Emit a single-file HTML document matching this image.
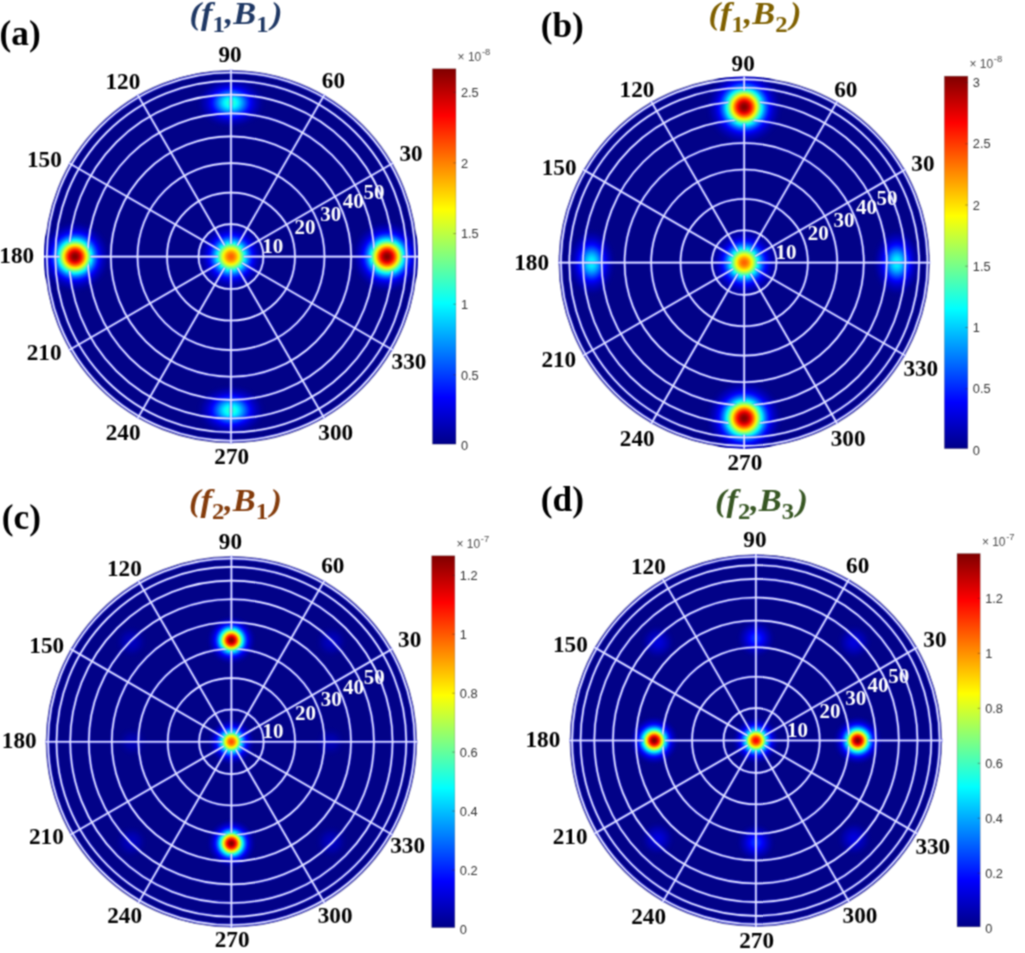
<!DOCTYPE html>
<html><head><meta charset="utf-8"><title>Polar intensity maps</title>
<style>
html,body{margin:0;padding:0;background:#fff}
svg{display:block}
text{font-family:"Liberation Serif",serif}
.al text{font-size:23.2px;font-weight:bold;fill:#000;text-anchor:middle}
.rl text{font-size:21px;font-weight:bold;fill:#fff;text-anchor:middle}
.ct text,.ce text{font-family:"Liberation Sans",sans-serif;font-size:12.8px;fill:#303030}
.ce text{font-size:12px;fill:#4a4a4a}
.pl{font-size:35.3px;font-weight:bold;fill:#000}
.tt{font-size:32px;font-weight:bold;font-style:italic}
.tt .sb{font-size:23px;font-style:normal}
</style></head><body>
<svg width="1025" height="953" viewBox="0 0 1025 953">
<defs>
<filter id="soft" x="0" y="0" width="1025" height="953" filterUnits="userSpaceOnUse" color-interpolation-filters="sRGB"><feConvolveMatrix order="3" kernelMatrix="1 2 1 2 5 2 1 2 1" divisor="17" edgeMode="duplicate" preserveAlpha="true"/></filter>
<linearGradient id="jet" x1="0" y1="0" x2="0" y2="1"><stop offset="0.0000" stop-color="#800000"/><stop offset="0.0312" stop-color="#9f0000"/><stop offset="0.0625" stop-color="#bf0000"/><stop offset="0.0938" stop-color="#df0000"/><stop offset="0.1250" stop-color="#ff0000"/><stop offset="0.1562" stop-color="#ff2000"/><stop offset="0.1875" stop-color="#ff4000"/><stop offset="0.2188" stop-color="#ff6000"/><stop offset="0.2500" stop-color="#ff8000"/><stop offset="0.2812" stop-color="#ff9f00"/><stop offset="0.3125" stop-color="#ffbf00"/><stop offset="0.3438" stop-color="#ffdf00"/><stop offset="0.3750" stop-color="#ffff00"/><stop offset="0.4062" stop-color="#dfff20"/><stop offset="0.4375" stop-color="#bfff40"/><stop offset="0.4688" stop-color="#9fff60"/><stop offset="0.5000" stop-color="#80ff80"/><stop offset="0.5312" stop-color="#60ff9f"/><stop offset="0.5625" stop-color="#40ffbf"/><stop offset="0.5938" stop-color="#20ffdf"/><stop offset="0.6250" stop-color="#00ffff"/><stop offset="0.6562" stop-color="#00dfff"/><stop offset="0.6875" stop-color="#00bfff"/><stop offset="0.7188" stop-color="#009fff"/><stop offset="0.7500" stop-color="#0080ff"/><stop offset="0.7812" stop-color="#0060ff"/><stop offset="0.8125" stop-color="#0040ff"/><stop offset="0.8438" stop-color="#0020ff"/><stop offset="0.8750" stop-color="#0000ff"/><stop offset="0.9062" stop-color="#0000e1"/><stop offset="0.9375" stop-color="#0000c3"/><stop offset="0.9688" stop-color="#0000a5"/><stop offset="1.0000" stop-color="#000088"/></linearGradient>
<clipPath id="ca"><circle cx="231.00" cy="256.60" r="187.00"/></clipPath>
<radialGradient id="g1" gradientUnits="userSpaceOnUse" cx="231.00" cy="256.60" r="37.35"><stop offset="0.0000" stop-color="#ff6100" stop-opacity="1.000"/><stop offset="0.0357" stop-color="#ff6600" stop-opacity="1.000"/><stop offset="0.0714" stop-color="#ff7600" stop-opacity="1.000"/><stop offset="0.1071" stop-color="#ff9000" stop-opacity="1.000"/><stop offset="0.1429" stop-color="#ffb200" stop-opacity="1.000"/><stop offset="0.1786" stop-color="#ffdc00" stop-opacity="1.000"/><stop offset="0.2143" stop-color="#f2ff0d" stop-opacity="1.000"/><stop offset="0.2500" stop-color="#beff41" stop-opacity="1.000"/><stop offset="0.2857" stop-color="#87ff78" stop-opacity="1.000"/><stop offset="0.3214" stop-color="#4fffb0" stop-opacity="1.000"/><stop offset="0.3571" stop-color="#18ffe7" stop-opacity="1.000"/><stop offset="0.3929" stop-color="#00e1ff" stop-opacity="1.000"/><stop offset="0.4286" stop-color="#00afff" stop-opacity="1.000"/><stop offset="0.4643" stop-color="#0080ff" stop-opacity="1.000"/><stop offset="0.5000" stop-color="#0055ff" stop-opacity="1.000"/><stop offset="0.5357" stop-color="#0030ff" stop-opacity="1.000"/><stop offset="0.5714" stop-color="#000fff" stop-opacity="1.000"/><stop offset="0.6071" stop-color="#0000f2" stop-opacity="1.000"/><stop offset="0.6429" stop-color="#0000dc" stop-opacity="1.000"/><stop offset="0.6786" stop-color="#0000c9" stop-opacity="1.000"/><stop offset="0.7143" stop-color="#0000ba" stop-opacity="1.000"/><stop offset="0.7500" stop-color="#0000ae" stop-opacity="1.000"/><stop offset="0.7857" stop-color="#0000a4" stop-opacity="1.000"/><stop offset="0.8214" stop-color="#010197" stop-opacity="1.000"/><stop offset="0.8571" stop-color="#010190" stop-opacity="1.000"/><stop offset="0.8929" stop-color="#01018c" stop-opacity="0.957"/><stop offset="0.9286" stop-color="#01018a" stop-opacity="0.534"/><stop offset="0.9643" stop-color="#020289" stop-opacity="0.224"/><stop offset="1.0000" stop-color="#020288" stop-opacity="0.000"/></radialGradient>
<radialGradient id="g2" gradientUnits="userSpaceOnUse" cx="387.00" cy="256.60" r="39.21"><stop offset="0.0000" stop-color="#800000" stop-opacity="1.000"/><stop offset="0.0357" stop-color="#870000" stop-opacity="1.000"/><stop offset="0.0714" stop-color="#9c0000" stop-opacity="1.000"/><stop offset="0.1071" stop-color="#be0000" stop-opacity="1.000"/><stop offset="0.1429" stop-color="#ec0000" stop-opacity="1.000"/><stop offset="0.1786" stop-color="#ff2500" stop-opacity="1.000"/><stop offset="0.2143" stop-color="#ff6500" stop-opacity="1.000"/><stop offset="0.2500" stop-color="#ffaa00" stop-opacity="1.000"/><stop offset="0.2857" stop-color="#fff300" stop-opacity="1.000"/><stop offset="0.3214" stop-color="#c2ff3d" stop-opacity="1.000"/><stop offset="0.3571" stop-color="#7aff85" stop-opacity="1.000"/><stop offset="0.3929" stop-color="#35ffca" stop-opacity="1.000"/><stop offset="0.4286" stop-color="#00f2ff" stop-opacity="1.000"/><stop offset="0.4643" stop-color="#00b7ff" stop-opacity="1.000"/><stop offset="0.5000" stop-color="#0081ff" stop-opacity="1.000"/><stop offset="0.5357" stop-color="#0052ff" stop-opacity="1.000"/><stop offset="0.5714" stop-color="#0029ff" stop-opacity="1.000"/><stop offset="0.6071" stop-color="#0006ff" stop-opacity="1.000"/><stop offset="0.6429" stop-color="#0000e9" stop-opacity="1.000"/><stop offset="0.6786" stop-color="#0000d3" stop-opacity="1.000"/><stop offset="0.7143" stop-color="#0000c0" stop-opacity="1.000"/><stop offset="0.7500" stop-color="#0000b2" stop-opacity="1.000"/><stop offset="0.7857" stop-color="#0000a7" stop-opacity="1.000"/><stop offset="0.8214" stop-color="#00009a" stop-opacity="1.000"/><stop offset="0.8571" stop-color="#010191" stop-opacity="1.000"/><stop offset="0.8929" stop-color="#01018c" stop-opacity="1.000"/><stop offset="0.9286" stop-color="#01018a" stop-opacity="0.570"/><stop offset="0.9643" stop-color="#020289" stop-opacity="0.237"/><stop offset="1.0000" stop-color="#020288" stop-opacity="0.000"/></radialGradient>
<radialGradient id="g3" gradientUnits="userSpaceOnUse" cx="75.00" cy="256.60" r="39.21"><stop offset="0.0000" stop-color="#800000" stop-opacity="1.000"/><stop offset="0.0357" stop-color="#870000" stop-opacity="1.000"/><stop offset="0.0714" stop-color="#9c0000" stop-opacity="1.000"/><stop offset="0.1071" stop-color="#be0000" stop-opacity="1.000"/><stop offset="0.1429" stop-color="#ec0000" stop-opacity="1.000"/><stop offset="0.1786" stop-color="#ff2500" stop-opacity="1.000"/><stop offset="0.2143" stop-color="#ff6500" stop-opacity="1.000"/><stop offset="0.2500" stop-color="#ffaa00" stop-opacity="1.000"/><stop offset="0.2857" stop-color="#fff300" stop-opacity="1.000"/><stop offset="0.3214" stop-color="#c2ff3d" stop-opacity="1.000"/><stop offset="0.3571" stop-color="#7aff85" stop-opacity="1.000"/><stop offset="0.3929" stop-color="#35ffca" stop-opacity="1.000"/><stop offset="0.4286" stop-color="#00f2ff" stop-opacity="1.000"/><stop offset="0.4643" stop-color="#00b7ff" stop-opacity="1.000"/><stop offset="0.5000" stop-color="#0081ff" stop-opacity="1.000"/><stop offset="0.5357" stop-color="#0052ff" stop-opacity="1.000"/><stop offset="0.5714" stop-color="#0029ff" stop-opacity="1.000"/><stop offset="0.6071" stop-color="#0006ff" stop-opacity="1.000"/><stop offset="0.6429" stop-color="#0000e9" stop-opacity="1.000"/><stop offset="0.6786" stop-color="#0000d3" stop-opacity="1.000"/><stop offset="0.7143" stop-color="#0000c0" stop-opacity="1.000"/><stop offset="0.7500" stop-color="#0000b2" stop-opacity="1.000"/><stop offset="0.7857" stop-color="#0000a7" stop-opacity="1.000"/><stop offset="0.8214" stop-color="#00009a" stop-opacity="1.000"/><stop offset="0.8571" stop-color="#010191" stop-opacity="1.000"/><stop offset="0.8929" stop-color="#01018c" stop-opacity="1.000"/><stop offset="0.9286" stop-color="#01018a" stop-opacity="0.570"/><stop offset="0.9643" stop-color="#020289" stop-opacity="0.237"/><stop offset="1.0000" stop-color="#020288" stop-opacity="0.000"/></radialGradient>
<radialGradient id="g4" gradientUnits="userSpaceOnUse" cx="231.00" cy="102.80" r="38.13" gradientTransform="translate(231.00 102.80) scale(1.000 0.750) translate(-231.00 -102.80)"><stop offset="0.0000" stop-color="#2dffd2" stop-opacity="1.000"/><stop offset="0.0357" stop-color="#2affd5" stop-opacity="1.000"/><stop offset="0.0714" stop-color="#23ffdc" stop-opacity="1.000"/><stop offset="0.1071" stop-color="#17ffe8" stop-opacity="1.000"/><stop offset="0.1429" stop-color="#06fff9" stop-opacity="1.000"/><stop offset="0.1786" stop-color="#00f1ff" stop-opacity="1.000"/><stop offset="0.2143" stop-color="#00daff" stop-opacity="1.000"/><stop offset="0.2500" stop-color="#00c0ff" stop-opacity="1.000"/><stop offset="0.2857" stop-color="#00a5ff" stop-opacity="1.000"/><stop offset="0.3214" stop-color="#0089ff" stop-opacity="1.000"/><stop offset="0.3571" stop-color="#006dff" stop-opacity="1.000"/><stop offset="0.3929" stop-color="#0051ff" stop-opacity="1.000"/><stop offset="0.4286" stop-color="#0036ff" stop-opacity="1.000"/><stop offset="0.4643" stop-color="#001dff" stop-opacity="1.000"/><stop offset="0.5000" stop-color="#0006ff" stop-opacity="1.000"/><stop offset="0.5357" stop-color="#0000f1" stop-opacity="1.000"/><stop offset="0.5714" stop-color="#0000df" stop-opacity="1.000"/><stop offset="0.6071" stop-color="#0000cf" stop-opacity="1.000"/><stop offset="0.6429" stop-color="#0000c2" stop-opacity="1.000"/><stop offset="0.6786" stop-color="#0000b6" stop-opacity="1.000"/><stop offset="0.7143" stop-color="#0000ad" stop-opacity="1.000"/><stop offset="0.7500" stop-color="#0000a4" stop-opacity="1.000"/><stop offset="0.7857" stop-color="#000099" stop-opacity="1.000"/><stop offset="0.8214" stop-color="#010192" stop-opacity="1.000"/><stop offset="0.8571" stop-color="#01018e" stop-opacity="1.000"/><stop offset="0.8929" stop-color="#01018b" stop-opacity="0.784"/><stop offset="0.9286" stop-color="#01018a" stop-opacity="0.449"/><stop offset="0.9643" stop-color="#020289" stop-opacity="0.193"/><stop offset="1.0000" stop-color="#020288" stop-opacity="0.000"/></radialGradient>
<radialGradient id="g5" gradientUnits="userSpaceOnUse" cx="231.00" cy="410.40" r="38.13" gradientTransform="translate(231.00 410.40) scale(1.000 0.750) translate(-231.00 -410.40)"><stop offset="0.0000" stop-color="#2dffd2" stop-opacity="1.000"/><stop offset="0.0357" stop-color="#2affd5" stop-opacity="1.000"/><stop offset="0.0714" stop-color="#23ffdc" stop-opacity="1.000"/><stop offset="0.1071" stop-color="#17ffe8" stop-opacity="1.000"/><stop offset="0.1429" stop-color="#06fff9" stop-opacity="1.000"/><stop offset="0.1786" stop-color="#00f1ff" stop-opacity="1.000"/><stop offset="0.2143" stop-color="#00daff" stop-opacity="1.000"/><stop offset="0.2500" stop-color="#00c0ff" stop-opacity="1.000"/><stop offset="0.2857" stop-color="#00a5ff" stop-opacity="1.000"/><stop offset="0.3214" stop-color="#0089ff" stop-opacity="1.000"/><stop offset="0.3571" stop-color="#006dff" stop-opacity="1.000"/><stop offset="0.3929" stop-color="#0051ff" stop-opacity="1.000"/><stop offset="0.4286" stop-color="#0036ff" stop-opacity="1.000"/><stop offset="0.4643" stop-color="#001dff" stop-opacity="1.000"/><stop offset="0.5000" stop-color="#0006ff" stop-opacity="1.000"/><stop offset="0.5357" stop-color="#0000f1" stop-opacity="1.000"/><stop offset="0.5714" stop-color="#0000df" stop-opacity="1.000"/><stop offset="0.6071" stop-color="#0000cf" stop-opacity="1.000"/><stop offset="0.6429" stop-color="#0000c2" stop-opacity="1.000"/><stop offset="0.6786" stop-color="#0000b6" stop-opacity="1.000"/><stop offset="0.7143" stop-color="#0000ad" stop-opacity="1.000"/><stop offset="0.7500" stop-color="#0000a4" stop-opacity="1.000"/><stop offset="0.7857" stop-color="#000099" stop-opacity="1.000"/><stop offset="0.8214" stop-color="#010192" stop-opacity="1.000"/><stop offset="0.8571" stop-color="#01018e" stop-opacity="1.000"/><stop offset="0.8929" stop-color="#01018b" stop-opacity="0.784"/><stop offset="0.9286" stop-color="#01018a" stop-opacity="0.449"/><stop offset="0.9643" stop-color="#020289" stop-opacity="0.193"/><stop offset="1.0000" stop-color="#020288" stop-opacity="0.000"/></radialGradient>
<clipPath id="ka"><rect x="361.0" y="176.6" width="30" height="24"/></clipPath>
<clipPath id="cb"><circle cx="744.20" cy="262.60" r="186.10"/></clipPath>
<radialGradient id="g6" gradientUnits="userSpaceOnUse" cx="744.20" cy="262.60" r="37.35"><stop offset="0.0000" stop-color="#ff6100" stop-opacity="1.000"/><stop offset="0.0357" stop-color="#ff6600" stop-opacity="1.000"/><stop offset="0.0714" stop-color="#ff7600" stop-opacity="1.000"/><stop offset="0.1071" stop-color="#ff9000" stop-opacity="1.000"/><stop offset="0.1429" stop-color="#ffb200" stop-opacity="1.000"/><stop offset="0.1786" stop-color="#ffdc00" stop-opacity="1.000"/><stop offset="0.2143" stop-color="#f2ff0d" stop-opacity="1.000"/><stop offset="0.2500" stop-color="#beff41" stop-opacity="1.000"/><stop offset="0.2857" stop-color="#87ff78" stop-opacity="1.000"/><stop offset="0.3214" stop-color="#4fffb0" stop-opacity="1.000"/><stop offset="0.3571" stop-color="#18ffe7" stop-opacity="1.000"/><stop offset="0.3929" stop-color="#00e1ff" stop-opacity="1.000"/><stop offset="0.4286" stop-color="#00afff" stop-opacity="1.000"/><stop offset="0.4643" stop-color="#0080ff" stop-opacity="1.000"/><stop offset="0.5000" stop-color="#0055ff" stop-opacity="1.000"/><stop offset="0.5357" stop-color="#0030ff" stop-opacity="1.000"/><stop offset="0.5714" stop-color="#000fff" stop-opacity="1.000"/><stop offset="0.6071" stop-color="#0000f2" stop-opacity="1.000"/><stop offset="0.6429" stop-color="#0000dc" stop-opacity="1.000"/><stop offset="0.6786" stop-color="#0000c9" stop-opacity="1.000"/><stop offset="0.7143" stop-color="#0000ba" stop-opacity="1.000"/><stop offset="0.7500" stop-color="#0000ae" stop-opacity="1.000"/><stop offset="0.7857" stop-color="#0000a4" stop-opacity="1.000"/><stop offset="0.8214" stop-color="#010197" stop-opacity="1.000"/><stop offset="0.8571" stop-color="#010190" stop-opacity="1.000"/><stop offset="0.8929" stop-color="#01018c" stop-opacity="0.957"/><stop offset="0.9286" stop-color="#01018a" stop-opacity="0.534"/><stop offset="0.9643" stop-color="#020289" stop-opacity="0.224"/><stop offset="1.0000" stop-color="#020288" stop-opacity="0.000"/></radialGradient>
<radialGradient id="g7" gradientUnits="userSpaceOnUse" cx="744.20" cy="107.00" r="41.87"><stop offset="0.0000" stop-color="#800000" stop-opacity="1.000"/><stop offset="0.0357" stop-color="#870000" stop-opacity="1.000"/><stop offset="0.0714" stop-color="#9c0000" stop-opacity="1.000"/><stop offset="0.1071" stop-color="#be0000" stop-opacity="1.000"/><stop offset="0.1429" stop-color="#ec0000" stop-opacity="1.000"/><stop offset="0.1786" stop-color="#ff2500" stop-opacity="1.000"/><stop offset="0.2143" stop-color="#ff6500" stop-opacity="1.000"/><stop offset="0.2500" stop-color="#ffaa00" stop-opacity="1.000"/><stop offset="0.2857" stop-color="#fff300" stop-opacity="1.000"/><stop offset="0.3214" stop-color="#c2ff3d" stop-opacity="1.000"/><stop offset="0.3571" stop-color="#7aff85" stop-opacity="1.000"/><stop offset="0.3929" stop-color="#35ffca" stop-opacity="1.000"/><stop offset="0.4286" stop-color="#00f2ff" stop-opacity="1.000"/><stop offset="0.4643" stop-color="#00b7ff" stop-opacity="1.000"/><stop offset="0.5000" stop-color="#0081ff" stop-opacity="1.000"/><stop offset="0.5357" stop-color="#0052ff" stop-opacity="1.000"/><stop offset="0.5714" stop-color="#0029ff" stop-opacity="1.000"/><stop offset="0.6071" stop-color="#0006ff" stop-opacity="1.000"/><stop offset="0.6429" stop-color="#0000e9" stop-opacity="1.000"/><stop offset="0.6786" stop-color="#0000d3" stop-opacity="1.000"/><stop offset="0.7143" stop-color="#0000c0" stop-opacity="1.000"/><stop offset="0.7500" stop-color="#0000b2" stop-opacity="1.000"/><stop offset="0.7857" stop-color="#0000a7" stop-opacity="1.000"/><stop offset="0.8214" stop-color="#00009a" stop-opacity="1.000"/><stop offset="0.8571" stop-color="#010191" stop-opacity="1.000"/><stop offset="0.8929" stop-color="#01018c" stop-opacity="1.000"/><stop offset="0.9286" stop-color="#01018a" stop-opacity="0.570"/><stop offset="0.9643" stop-color="#020289" stop-opacity="0.237"/><stop offset="1.0000" stop-color="#020288" stop-opacity="0.000"/></radialGradient>
<radialGradient id="g8" gradientUnits="userSpaceOnUse" cx="744.20" cy="418.20" r="41.87"><stop offset="0.0000" stop-color="#800000" stop-opacity="1.000"/><stop offset="0.0357" stop-color="#870000" stop-opacity="1.000"/><stop offset="0.0714" stop-color="#9c0000" stop-opacity="1.000"/><stop offset="0.1071" stop-color="#be0000" stop-opacity="1.000"/><stop offset="0.1429" stop-color="#ec0000" stop-opacity="1.000"/><stop offset="0.1786" stop-color="#ff2500" stop-opacity="1.000"/><stop offset="0.2143" stop-color="#ff6500" stop-opacity="1.000"/><stop offset="0.2500" stop-color="#ffaa00" stop-opacity="1.000"/><stop offset="0.2857" stop-color="#fff300" stop-opacity="1.000"/><stop offset="0.3214" stop-color="#c2ff3d" stop-opacity="1.000"/><stop offset="0.3571" stop-color="#7aff85" stop-opacity="1.000"/><stop offset="0.3929" stop-color="#35ffca" stop-opacity="1.000"/><stop offset="0.4286" stop-color="#00f2ff" stop-opacity="1.000"/><stop offset="0.4643" stop-color="#00b7ff" stop-opacity="1.000"/><stop offset="0.5000" stop-color="#0081ff" stop-opacity="1.000"/><stop offset="0.5357" stop-color="#0052ff" stop-opacity="1.000"/><stop offset="0.5714" stop-color="#0029ff" stop-opacity="1.000"/><stop offset="0.6071" stop-color="#0006ff" stop-opacity="1.000"/><stop offset="0.6429" stop-color="#0000e9" stop-opacity="1.000"/><stop offset="0.6786" stop-color="#0000d3" stop-opacity="1.000"/><stop offset="0.7143" stop-color="#0000c0" stop-opacity="1.000"/><stop offset="0.7500" stop-color="#0000b2" stop-opacity="1.000"/><stop offset="0.7857" stop-color="#0000a7" stop-opacity="1.000"/><stop offset="0.8214" stop-color="#00009a" stop-opacity="1.000"/><stop offset="0.8571" stop-color="#010191" stop-opacity="1.000"/><stop offset="0.8929" stop-color="#01018c" stop-opacity="1.000"/><stop offset="0.9286" stop-color="#01018a" stop-opacity="0.570"/><stop offset="0.9643" stop-color="#020289" stop-opacity="0.237"/><stop offset="1.0000" stop-color="#020288" stop-opacity="0.000"/></radialGradient>
<radialGradient id="g9" gradientUnits="userSpaceOnUse" cx="896.90" cy="262.60" r="37.61" gradientTransform="translate(896.90 262.60) scale(0.720 1.000) translate(-896.90 -262.60)"><stop offset="0.0000" stop-color="#00faff" stop-opacity="1.000"/><stop offset="0.0357" stop-color="#00f8ff" stop-opacity="1.000"/><stop offset="0.0714" stop-color="#00f1ff" stop-opacity="1.000"/><stop offset="0.1071" stop-color="#00e7ff" stop-opacity="1.000"/><stop offset="0.1429" stop-color="#00d9ff" stop-opacity="1.000"/><stop offset="0.1786" stop-color="#00c7ff" stop-opacity="1.000"/><stop offset="0.2143" stop-color="#00b3ff" stop-opacity="1.000"/><stop offset="0.2500" stop-color="#009dff" stop-opacity="1.000"/><stop offset="0.2857" stop-color="#0085ff" stop-opacity="1.000"/><stop offset="0.3214" stop-color="#006dff" stop-opacity="1.000"/><stop offset="0.3571" stop-color="#0054ff" stop-opacity="1.000"/><stop offset="0.3929" stop-color="#003cff" stop-opacity="1.000"/><stop offset="0.4286" stop-color="#0025ff" stop-opacity="1.000"/><stop offset="0.4643" stop-color="#000fff" stop-opacity="1.000"/><stop offset="0.5000" stop-color="#0000fa" stop-opacity="1.000"/><stop offset="0.5357" stop-color="#0000e8" stop-opacity="1.000"/><stop offset="0.5714" stop-color="#0000d8" stop-opacity="1.000"/><stop offset="0.6071" stop-color="#0000ca" stop-opacity="1.000"/><stop offset="0.6429" stop-color="#0000be" stop-opacity="1.000"/><stop offset="0.6786" stop-color="#0000b3" stop-opacity="1.000"/><stop offset="0.7143" stop-color="#0000aa" stop-opacity="1.000"/><stop offset="0.7500" stop-color="#0000a2" stop-opacity="1.000"/><stop offset="0.7857" stop-color="#000098" stop-opacity="1.000"/><stop offset="0.8214" stop-color="#010191" stop-opacity="1.000"/><stop offset="0.8571" stop-color="#01018d" stop-opacity="1.000"/><stop offset="0.8929" stop-color="#01018b" stop-opacity="0.752"/><stop offset="0.9286" stop-color="#02028a" stop-opacity="0.433"/><stop offset="0.9643" stop-color="#020289" stop-opacity="0.187"/><stop offset="1.0000" stop-color="#020288" stop-opacity="0.000"/></radialGradient>
<radialGradient id="g10" gradientUnits="userSpaceOnUse" cx="591.50" cy="262.60" r="37.61" gradientTransform="translate(591.50 262.60) scale(0.720 1.000) translate(-591.50 -262.60)"><stop offset="0.0000" stop-color="#00faff" stop-opacity="1.000"/><stop offset="0.0357" stop-color="#00f8ff" stop-opacity="1.000"/><stop offset="0.0714" stop-color="#00f1ff" stop-opacity="1.000"/><stop offset="0.1071" stop-color="#00e7ff" stop-opacity="1.000"/><stop offset="0.1429" stop-color="#00d9ff" stop-opacity="1.000"/><stop offset="0.1786" stop-color="#00c7ff" stop-opacity="1.000"/><stop offset="0.2143" stop-color="#00b3ff" stop-opacity="1.000"/><stop offset="0.2500" stop-color="#009dff" stop-opacity="1.000"/><stop offset="0.2857" stop-color="#0085ff" stop-opacity="1.000"/><stop offset="0.3214" stop-color="#006dff" stop-opacity="1.000"/><stop offset="0.3571" stop-color="#0054ff" stop-opacity="1.000"/><stop offset="0.3929" stop-color="#003cff" stop-opacity="1.000"/><stop offset="0.4286" stop-color="#0025ff" stop-opacity="1.000"/><stop offset="0.4643" stop-color="#000fff" stop-opacity="1.000"/><stop offset="0.5000" stop-color="#0000fa" stop-opacity="1.000"/><stop offset="0.5357" stop-color="#0000e8" stop-opacity="1.000"/><stop offset="0.5714" stop-color="#0000d8" stop-opacity="1.000"/><stop offset="0.6071" stop-color="#0000ca" stop-opacity="1.000"/><stop offset="0.6429" stop-color="#0000be" stop-opacity="1.000"/><stop offset="0.6786" stop-color="#0000b3" stop-opacity="1.000"/><stop offset="0.7143" stop-color="#0000aa" stop-opacity="1.000"/><stop offset="0.7500" stop-color="#0000a2" stop-opacity="1.000"/><stop offset="0.7857" stop-color="#000098" stop-opacity="1.000"/><stop offset="0.8214" stop-color="#010191" stop-opacity="1.000"/><stop offset="0.8571" stop-color="#01018d" stop-opacity="1.000"/><stop offset="0.8929" stop-color="#01018b" stop-opacity="0.752"/><stop offset="0.9286" stop-color="#02028a" stop-opacity="0.433"/><stop offset="0.9643" stop-color="#020289" stop-opacity="0.187"/><stop offset="1.0000" stop-color="#020288" stop-opacity="0.000"/></radialGradient>
<clipPath id="kb"><rect x="874.2" y="182.6" width="30" height="24"/></clipPath>
<clipPath id="cc"><circle cx="231.40" cy="741.80" r="186.10"/></clipPath>
<radialGradient id="g11" gradientUnits="userSpaceOnUse" cx="231.40" cy="741.80" r="26.04"><stop offset="0.0000" stop-color="#ff4c00" stop-opacity="1.000"/><stop offset="0.0357" stop-color="#ff5200" stop-opacity="1.000"/><stop offset="0.0714" stop-color="#ff6200" stop-opacity="1.000"/><stop offset="0.1071" stop-color="#ff7d00" stop-opacity="1.000"/><stop offset="0.1429" stop-color="#ffa000" stop-opacity="1.000"/><stop offset="0.1786" stop-color="#ffcb00" stop-opacity="1.000"/><stop offset="0.2143" stop-color="#fffd00" stop-opacity="1.000"/><stop offset="0.2500" stop-color="#cbff34" stop-opacity="1.000"/><stop offset="0.2857" stop-color="#93ff6c" stop-opacity="1.000"/><stop offset="0.3214" stop-color="#5affa5" stop-opacity="1.000"/><stop offset="0.3571" stop-color="#21ffde" stop-opacity="1.000"/><stop offset="0.3929" stop-color="#00e9ff" stop-opacity="1.000"/><stop offset="0.4286" stop-color="#00b5ff" stop-opacity="1.000"/><stop offset="0.4643" stop-color="#0085ff" stop-opacity="1.000"/><stop offset="0.5000" stop-color="#0059ff" stop-opacity="1.000"/><stop offset="0.5357" stop-color="#0033ff" stop-opacity="1.000"/><stop offset="0.5714" stop-color="#0011ff" stop-opacity="1.000"/><stop offset="0.6071" stop-color="#0000f4" stop-opacity="1.000"/><stop offset="0.6429" stop-color="#0000dd" stop-opacity="1.000"/><stop offset="0.6786" stop-color="#0000ca" stop-opacity="1.000"/><stop offset="0.7143" stop-color="#0000bb" stop-opacity="1.000"/><stop offset="0.7500" stop-color="#0000ae" stop-opacity="1.000"/><stop offset="0.7857" stop-color="#0000a4" stop-opacity="1.000"/><stop offset="0.8214" stop-color="#010197" stop-opacity="1.000"/><stop offset="0.8571" stop-color="#010190" stop-opacity="1.000"/><stop offset="0.8929" stop-color="#01018c" stop-opacity="0.964"/><stop offset="0.9286" stop-color="#01018a" stop-opacity="0.537"/><stop offset="0.9643" stop-color="#020289" stop-opacity="0.225"/><stop offset="1.0000" stop-color="#020288" stop-opacity="0.000"/></radialGradient>
<radialGradient id="g12" gradientUnits="userSpaceOnUse" cx="231.40" cy="640.20" r="26.92"><stop offset="0.0000" stop-color="#800000" stop-opacity="1.000"/><stop offset="0.0357" stop-color="#870000" stop-opacity="1.000"/><stop offset="0.0714" stop-color="#9c0000" stop-opacity="1.000"/><stop offset="0.1071" stop-color="#be0000" stop-opacity="1.000"/><stop offset="0.1429" stop-color="#ec0000" stop-opacity="1.000"/><stop offset="0.1786" stop-color="#ff2500" stop-opacity="1.000"/><stop offset="0.2143" stop-color="#ff6500" stop-opacity="1.000"/><stop offset="0.2500" stop-color="#ffaa00" stop-opacity="1.000"/><stop offset="0.2857" stop-color="#fff300" stop-opacity="1.000"/><stop offset="0.3214" stop-color="#c2ff3d" stop-opacity="1.000"/><stop offset="0.3571" stop-color="#7aff85" stop-opacity="1.000"/><stop offset="0.3929" stop-color="#35ffca" stop-opacity="1.000"/><stop offset="0.4286" stop-color="#00f2ff" stop-opacity="1.000"/><stop offset="0.4643" stop-color="#00b7ff" stop-opacity="1.000"/><stop offset="0.5000" stop-color="#0081ff" stop-opacity="1.000"/><stop offset="0.5357" stop-color="#0052ff" stop-opacity="1.000"/><stop offset="0.5714" stop-color="#0029ff" stop-opacity="1.000"/><stop offset="0.6071" stop-color="#0006ff" stop-opacity="1.000"/><stop offset="0.6429" stop-color="#0000e9" stop-opacity="1.000"/><stop offset="0.6786" stop-color="#0000d3" stop-opacity="1.000"/><stop offset="0.7143" stop-color="#0000c0" stop-opacity="1.000"/><stop offset="0.7500" stop-color="#0000b2" stop-opacity="1.000"/><stop offset="0.7857" stop-color="#0000a7" stop-opacity="1.000"/><stop offset="0.8214" stop-color="#00009a" stop-opacity="1.000"/><stop offset="0.8571" stop-color="#010191" stop-opacity="1.000"/><stop offset="0.8929" stop-color="#01018c" stop-opacity="1.000"/><stop offset="0.9286" stop-color="#01018a" stop-opacity="0.570"/><stop offset="0.9643" stop-color="#020289" stop-opacity="0.237"/><stop offset="1.0000" stop-color="#020288" stop-opacity="0.000"/></radialGradient>
<radialGradient id="g13" gradientUnits="userSpaceOnUse" cx="231.40" cy="843.40" r="26.92"><stop offset="0.0000" stop-color="#800000" stop-opacity="1.000"/><stop offset="0.0357" stop-color="#870000" stop-opacity="1.000"/><stop offset="0.0714" stop-color="#9c0000" stop-opacity="1.000"/><stop offset="0.1071" stop-color="#be0000" stop-opacity="1.000"/><stop offset="0.1429" stop-color="#ec0000" stop-opacity="1.000"/><stop offset="0.1786" stop-color="#ff2500" stop-opacity="1.000"/><stop offset="0.2143" stop-color="#ff6500" stop-opacity="1.000"/><stop offset="0.2500" stop-color="#ffaa00" stop-opacity="1.000"/><stop offset="0.2857" stop-color="#fff300" stop-opacity="1.000"/><stop offset="0.3214" stop-color="#c2ff3d" stop-opacity="1.000"/><stop offset="0.3571" stop-color="#7aff85" stop-opacity="1.000"/><stop offset="0.3929" stop-color="#35ffca" stop-opacity="1.000"/><stop offset="0.4286" stop-color="#00f2ff" stop-opacity="1.000"/><stop offset="0.4643" stop-color="#00b7ff" stop-opacity="1.000"/><stop offset="0.5000" stop-color="#0081ff" stop-opacity="1.000"/><stop offset="0.5357" stop-color="#0052ff" stop-opacity="1.000"/><stop offset="0.5714" stop-color="#0029ff" stop-opacity="1.000"/><stop offset="0.6071" stop-color="#0006ff" stop-opacity="1.000"/><stop offset="0.6429" stop-color="#0000e9" stop-opacity="1.000"/><stop offset="0.6786" stop-color="#0000d3" stop-opacity="1.000"/><stop offset="0.7143" stop-color="#0000c0" stop-opacity="1.000"/><stop offset="0.7500" stop-color="#0000b2" stop-opacity="1.000"/><stop offset="0.7857" stop-color="#0000a7" stop-opacity="1.000"/><stop offset="0.8214" stop-color="#00009a" stop-opacity="1.000"/><stop offset="0.8571" stop-color="#010191" stop-opacity="1.000"/><stop offset="0.8929" stop-color="#01018c" stop-opacity="1.000"/><stop offset="0.9286" stop-color="#01018a" stop-opacity="0.570"/><stop offset="0.9643" stop-color="#020289" stop-opacity="0.237"/><stop offset="1.0000" stop-color="#020288" stop-opacity="0.000"/></radialGradient>
<radialGradient id="g14" gradientUnits="userSpaceOnUse" cx="330.40" cy="741.80" r="17.60"><stop offset="0.0000" stop-color="#0000b2" stop-opacity="1.000"/><stop offset="0.0357" stop-color="#0000b2" stop-opacity="1.000"/><stop offset="0.0714" stop-color="#0000b2" stop-opacity="1.000"/><stop offset="0.1071" stop-color="#0000b1" stop-opacity="1.000"/><stop offset="0.1429" stop-color="#0000b0" stop-opacity="1.000"/><stop offset="0.1786" stop-color="#0000af" stop-opacity="1.000"/><stop offset="0.2143" stop-color="#0000ae" stop-opacity="1.000"/><stop offset="0.2500" stop-color="#0000ac" stop-opacity="1.000"/><stop offset="0.2857" stop-color="#0000ab" stop-opacity="1.000"/><stop offset="0.3214" stop-color="#0000a9" stop-opacity="1.000"/><stop offset="0.3571" stop-color="#0000a7" stop-opacity="1.000"/><stop offset="0.3929" stop-color="#0000a5" stop-opacity="1.000"/><stop offset="0.4286" stop-color="#0000a2" stop-opacity="1.000"/><stop offset="0.4643" stop-color="#00009e" stop-opacity="1.000"/><stop offset="0.5000" stop-color="#00009b" stop-opacity="1.000"/><stop offset="0.5357" stop-color="#010197" stop-opacity="1.000"/><stop offset="0.5714" stop-color="#010195" stop-opacity="1.000"/><stop offset="0.6071" stop-color="#010192" stop-opacity="1.000"/><stop offset="0.6429" stop-color="#010190" stop-opacity="1.000"/><stop offset="0.6786" stop-color="#01018f" stop-opacity="1.000"/><stop offset="0.7143" stop-color="#01018d" stop-opacity="1.000"/><stop offset="0.7500" stop-color="#01018c" stop-opacity="0.942"/><stop offset="0.7857" stop-color="#01018b" stop-opacity="0.762"/><stop offset="0.8214" stop-color="#01018a" stop-opacity="0.599"/><stop offset="0.8571" stop-color="#01018a" stop-opacity="0.450"/><stop offset="0.8929" stop-color="#020289" stop-opacity="0.317"/><stop offset="0.9286" stop-color="#020289" stop-opacity="0.198"/><stop offset="0.9643" stop-color="#020289" stop-opacity="0.093"/><stop offset="1.0000" stop-color="#020288" stop-opacity="0.000"/></radialGradient>
<radialGradient id="g15" gradientUnits="userSpaceOnUse" cx="132.40" cy="741.80" r="17.60"><stop offset="0.0000" stop-color="#0000b2" stop-opacity="1.000"/><stop offset="0.0357" stop-color="#0000b2" stop-opacity="1.000"/><stop offset="0.0714" stop-color="#0000b2" stop-opacity="1.000"/><stop offset="0.1071" stop-color="#0000b1" stop-opacity="1.000"/><stop offset="0.1429" stop-color="#0000b0" stop-opacity="1.000"/><stop offset="0.1786" stop-color="#0000af" stop-opacity="1.000"/><stop offset="0.2143" stop-color="#0000ae" stop-opacity="1.000"/><stop offset="0.2500" stop-color="#0000ac" stop-opacity="1.000"/><stop offset="0.2857" stop-color="#0000ab" stop-opacity="1.000"/><stop offset="0.3214" stop-color="#0000a9" stop-opacity="1.000"/><stop offset="0.3571" stop-color="#0000a7" stop-opacity="1.000"/><stop offset="0.3929" stop-color="#0000a5" stop-opacity="1.000"/><stop offset="0.4286" stop-color="#0000a2" stop-opacity="1.000"/><stop offset="0.4643" stop-color="#00009e" stop-opacity="1.000"/><stop offset="0.5000" stop-color="#00009b" stop-opacity="1.000"/><stop offset="0.5357" stop-color="#010197" stop-opacity="1.000"/><stop offset="0.5714" stop-color="#010195" stop-opacity="1.000"/><stop offset="0.6071" stop-color="#010192" stop-opacity="1.000"/><stop offset="0.6429" stop-color="#010190" stop-opacity="1.000"/><stop offset="0.6786" stop-color="#01018f" stop-opacity="1.000"/><stop offset="0.7143" stop-color="#01018d" stop-opacity="1.000"/><stop offset="0.7500" stop-color="#01018c" stop-opacity="0.942"/><stop offset="0.7857" stop-color="#01018b" stop-opacity="0.762"/><stop offset="0.8214" stop-color="#01018a" stop-opacity="0.599"/><stop offset="0.8571" stop-color="#01018a" stop-opacity="0.450"/><stop offset="0.8929" stop-color="#020289" stop-opacity="0.317"/><stop offset="0.9286" stop-color="#020289" stop-opacity="0.198"/><stop offset="0.9643" stop-color="#020289" stop-opacity="0.093"/><stop offset="1.0000" stop-color="#020288" stop-opacity="0.000"/></radialGradient>
<radialGradient id="g16" gradientUnits="userSpaceOnUse" cx="331.46" cy="641.74" r="18.62"><stop offset="0.0000" stop-color="#0000c1" stop-opacity="1.000"/><stop offset="0.0357" stop-color="#0000c0" stop-opacity="1.000"/><stop offset="0.0714" stop-color="#0000c0" stop-opacity="1.000"/><stop offset="0.1071" stop-color="#0000bf" stop-opacity="1.000"/><stop offset="0.1429" stop-color="#0000be" stop-opacity="1.000"/><stop offset="0.1786" stop-color="#0000bc" stop-opacity="1.000"/><stop offset="0.2143" stop-color="#0000ba" stop-opacity="1.000"/><stop offset="0.2500" stop-color="#0000b8" stop-opacity="1.000"/><stop offset="0.2857" stop-color="#0000b5" stop-opacity="1.000"/><stop offset="0.3214" stop-color="#0000b3" stop-opacity="1.000"/><stop offset="0.3571" stop-color="#0000b0" stop-opacity="1.000"/><stop offset="0.3929" stop-color="#0000ad" stop-opacity="1.000"/><stop offset="0.4286" stop-color="#0000aa" stop-opacity="1.000"/><stop offset="0.4643" stop-color="#0000a7" stop-opacity="1.000"/><stop offset="0.5000" stop-color="#0000a4" stop-opacity="1.000"/><stop offset="0.5357" stop-color="#0000a0" stop-opacity="1.000"/><stop offset="0.5714" stop-color="#00009b" stop-opacity="1.000"/><stop offset="0.6071" stop-color="#010197" stop-opacity="1.000"/><stop offset="0.6429" stop-color="#010194" stop-opacity="1.000"/><stop offset="0.6786" stop-color="#010191" stop-opacity="1.000"/><stop offset="0.7143" stop-color="#01018f" stop-opacity="1.000"/><stop offset="0.7500" stop-color="#01018d" stop-opacity="1.000"/><stop offset="0.7857" stop-color="#01018c" stop-opacity="0.909"/><stop offset="0.8214" stop-color="#01018b" stop-opacity="0.706"/><stop offset="0.8571" stop-color="#01018a" stop-opacity="0.526"/><stop offset="0.8929" stop-color="#020289" stop-opacity="0.366"/><stop offset="0.9286" stop-color="#020289" stop-opacity="0.226"/><stop offset="0.9643" stop-color="#020289" stop-opacity="0.105"/><stop offset="1.0000" stop-color="#020288" stop-opacity="0.000"/></radialGradient>
<radialGradient id="g17" gradientUnits="userSpaceOnUse" cx="131.34" cy="641.74" r="18.62"><stop offset="0.0000" stop-color="#0000c1" stop-opacity="1.000"/><stop offset="0.0357" stop-color="#0000c0" stop-opacity="1.000"/><stop offset="0.0714" stop-color="#0000c0" stop-opacity="1.000"/><stop offset="0.1071" stop-color="#0000bf" stop-opacity="1.000"/><stop offset="0.1429" stop-color="#0000be" stop-opacity="1.000"/><stop offset="0.1786" stop-color="#0000bc" stop-opacity="1.000"/><stop offset="0.2143" stop-color="#0000ba" stop-opacity="1.000"/><stop offset="0.2500" stop-color="#0000b8" stop-opacity="1.000"/><stop offset="0.2857" stop-color="#0000b5" stop-opacity="1.000"/><stop offset="0.3214" stop-color="#0000b3" stop-opacity="1.000"/><stop offset="0.3571" stop-color="#0000b0" stop-opacity="1.000"/><stop offset="0.3929" stop-color="#0000ad" stop-opacity="1.000"/><stop offset="0.4286" stop-color="#0000aa" stop-opacity="1.000"/><stop offset="0.4643" stop-color="#0000a7" stop-opacity="1.000"/><stop offset="0.5000" stop-color="#0000a4" stop-opacity="1.000"/><stop offset="0.5357" stop-color="#0000a0" stop-opacity="1.000"/><stop offset="0.5714" stop-color="#00009b" stop-opacity="1.000"/><stop offset="0.6071" stop-color="#010197" stop-opacity="1.000"/><stop offset="0.6429" stop-color="#010194" stop-opacity="1.000"/><stop offset="0.6786" stop-color="#010191" stop-opacity="1.000"/><stop offset="0.7143" stop-color="#01018f" stop-opacity="1.000"/><stop offset="0.7500" stop-color="#01018d" stop-opacity="1.000"/><stop offset="0.7857" stop-color="#01018c" stop-opacity="0.909"/><stop offset="0.8214" stop-color="#01018b" stop-opacity="0.706"/><stop offset="0.8571" stop-color="#01018a" stop-opacity="0.526"/><stop offset="0.8929" stop-color="#020289" stop-opacity="0.366"/><stop offset="0.9286" stop-color="#020289" stop-opacity="0.226"/><stop offset="0.9643" stop-color="#020289" stop-opacity="0.105"/><stop offset="1.0000" stop-color="#020288" stop-opacity="0.000"/></radialGradient>
<radialGradient id="g18" gradientUnits="userSpaceOnUse" cx="131.34" cy="841.86" r="18.62"><stop offset="0.0000" stop-color="#0000c1" stop-opacity="1.000"/><stop offset="0.0357" stop-color="#0000c0" stop-opacity="1.000"/><stop offset="0.0714" stop-color="#0000c0" stop-opacity="1.000"/><stop offset="0.1071" stop-color="#0000bf" stop-opacity="1.000"/><stop offset="0.1429" stop-color="#0000be" stop-opacity="1.000"/><stop offset="0.1786" stop-color="#0000bc" stop-opacity="1.000"/><stop offset="0.2143" stop-color="#0000ba" stop-opacity="1.000"/><stop offset="0.2500" stop-color="#0000b8" stop-opacity="1.000"/><stop offset="0.2857" stop-color="#0000b5" stop-opacity="1.000"/><stop offset="0.3214" stop-color="#0000b3" stop-opacity="1.000"/><stop offset="0.3571" stop-color="#0000b0" stop-opacity="1.000"/><stop offset="0.3929" stop-color="#0000ad" stop-opacity="1.000"/><stop offset="0.4286" stop-color="#0000aa" stop-opacity="1.000"/><stop offset="0.4643" stop-color="#0000a7" stop-opacity="1.000"/><stop offset="0.5000" stop-color="#0000a4" stop-opacity="1.000"/><stop offset="0.5357" stop-color="#0000a0" stop-opacity="1.000"/><stop offset="0.5714" stop-color="#00009b" stop-opacity="1.000"/><stop offset="0.6071" stop-color="#010197" stop-opacity="1.000"/><stop offset="0.6429" stop-color="#010194" stop-opacity="1.000"/><stop offset="0.6786" stop-color="#010191" stop-opacity="1.000"/><stop offset="0.7143" stop-color="#01018f" stop-opacity="1.000"/><stop offset="0.7500" stop-color="#01018d" stop-opacity="1.000"/><stop offset="0.7857" stop-color="#01018c" stop-opacity="0.909"/><stop offset="0.8214" stop-color="#01018b" stop-opacity="0.706"/><stop offset="0.8571" stop-color="#01018a" stop-opacity="0.526"/><stop offset="0.8929" stop-color="#020289" stop-opacity="0.366"/><stop offset="0.9286" stop-color="#020289" stop-opacity="0.226"/><stop offset="0.9643" stop-color="#020289" stop-opacity="0.105"/><stop offset="1.0000" stop-color="#020288" stop-opacity="0.000"/></radialGradient>
<radialGradient id="g19" gradientUnits="userSpaceOnUse" cx="331.46" cy="841.86" r="18.62"><stop offset="0.0000" stop-color="#0000c1" stop-opacity="1.000"/><stop offset="0.0357" stop-color="#0000c0" stop-opacity="1.000"/><stop offset="0.0714" stop-color="#0000c0" stop-opacity="1.000"/><stop offset="0.1071" stop-color="#0000bf" stop-opacity="1.000"/><stop offset="0.1429" stop-color="#0000be" stop-opacity="1.000"/><stop offset="0.1786" stop-color="#0000bc" stop-opacity="1.000"/><stop offset="0.2143" stop-color="#0000ba" stop-opacity="1.000"/><stop offset="0.2500" stop-color="#0000b8" stop-opacity="1.000"/><stop offset="0.2857" stop-color="#0000b5" stop-opacity="1.000"/><stop offset="0.3214" stop-color="#0000b3" stop-opacity="1.000"/><stop offset="0.3571" stop-color="#0000b0" stop-opacity="1.000"/><stop offset="0.3929" stop-color="#0000ad" stop-opacity="1.000"/><stop offset="0.4286" stop-color="#0000aa" stop-opacity="1.000"/><stop offset="0.4643" stop-color="#0000a7" stop-opacity="1.000"/><stop offset="0.5000" stop-color="#0000a4" stop-opacity="1.000"/><stop offset="0.5357" stop-color="#0000a0" stop-opacity="1.000"/><stop offset="0.5714" stop-color="#00009b" stop-opacity="1.000"/><stop offset="0.6071" stop-color="#010197" stop-opacity="1.000"/><stop offset="0.6429" stop-color="#010194" stop-opacity="1.000"/><stop offset="0.6786" stop-color="#010191" stop-opacity="1.000"/><stop offset="0.7143" stop-color="#01018f" stop-opacity="1.000"/><stop offset="0.7500" stop-color="#01018d" stop-opacity="1.000"/><stop offset="0.7857" stop-color="#01018c" stop-opacity="0.909"/><stop offset="0.8214" stop-color="#01018b" stop-opacity="0.706"/><stop offset="0.8571" stop-color="#01018a" stop-opacity="0.526"/><stop offset="0.8929" stop-color="#020289" stop-opacity="0.366"/><stop offset="0.9286" stop-color="#020289" stop-opacity="0.226"/><stop offset="0.9643" stop-color="#020289" stop-opacity="0.105"/><stop offset="1.0000" stop-color="#020288" stop-opacity="0.000"/></radialGradient>
<clipPath id="kc"><rect x="361.4" y="661.8" width="30" height="24"/></clipPath>
<clipPath id="cd"><circle cx="755.90" cy="740.50" r="186.60"/></clipPath>
<radialGradient id="g20" gradientUnits="userSpaceOnUse" cx="755.90" cy="740.50" r="26.28"><stop offset="0.0000" stop-color="#fa0000" stop-opacity="1.000"/><stop offset="0.0357" stop-color="#ff0100" stop-opacity="1.000"/><stop offset="0.0714" stop-color="#ff1300" stop-opacity="1.000"/><stop offset="0.1071" stop-color="#ff3100" stop-opacity="1.000"/><stop offset="0.1429" stop-color="#ff5800" stop-opacity="1.000"/><stop offset="0.1786" stop-color="#ff8900" stop-opacity="1.000"/><stop offset="0.2143" stop-color="#ffc000" stop-opacity="1.000"/><stop offset="0.2500" stop-color="#fffc00" stop-opacity="1.000"/><stop offset="0.2857" stop-color="#c3ff3c" stop-opacity="1.000"/><stop offset="0.3214" stop-color="#84ff7b" stop-opacity="1.000"/><stop offset="0.3571" stop-color="#45ffba" stop-opacity="1.000"/><stop offset="0.3929" stop-color="#08fff7" stop-opacity="1.000"/><stop offset="0.4286" stop-color="#00ceff" stop-opacity="1.000"/><stop offset="0.4643" stop-color="#0099ff" stop-opacity="1.000"/><stop offset="0.5000" stop-color="#006aff" stop-opacity="1.000"/><stop offset="0.5357" stop-color="#003fff" stop-opacity="1.000"/><stop offset="0.5714" stop-color="#001bff" stop-opacity="1.000"/><stop offset="0.6071" stop-color="#0000fb" stop-opacity="1.000"/><stop offset="0.6429" stop-color="#0000e2" stop-opacity="1.000"/><stop offset="0.6786" stop-color="#0000ce" stop-opacity="1.000"/><stop offset="0.7143" stop-color="#0000bd" stop-opacity="1.000"/><stop offset="0.7500" stop-color="#0000b0" stop-opacity="1.000"/><stop offset="0.7857" stop-color="#0000a5" stop-opacity="1.000"/><stop offset="0.8214" stop-color="#000098" stop-opacity="1.000"/><stop offset="0.8571" stop-color="#010190" stop-opacity="1.000"/><stop offset="0.8929" stop-color="#01018c" stop-opacity="0.993"/><stop offset="0.9286" stop-color="#01018a" stop-opacity="0.551"/><stop offset="0.9643" stop-color="#020289" stop-opacity="0.230"/><stop offset="1.0000" stop-color="#020288" stop-opacity="0.000"/></radialGradient>
<radialGradient id="g21" gradientUnits="userSpaceOnUse" cx="857.60" cy="740.50" r="26.92"><stop offset="0.0000" stop-color="#800000" stop-opacity="1.000"/><stop offset="0.0357" stop-color="#870000" stop-opacity="1.000"/><stop offset="0.0714" stop-color="#9c0000" stop-opacity="1.000"/><stop offset="0.1071" stop-color="#be0000" stop-opacity="1.000"/><stop offset="0.1429" stop-color="#ec0000" stop-opacity="1.000"/><stop offset="0.1786" stop-color="#ff2500" stop-opacity="1.000"/><stop offset="0.2143" stop-color="#ff6500" stop-opacity="1.000"/><stop offset="0.2500" stop-color="#ffaa00" stop-opacity="1.000"/><stop offset="0.2857" stop-color="#fff300" stop-opacity="1.000"/><stop offset="0.3214" stop-color="#c2ff3d" stop-opacity="1.000"/><stop offset="0.3571" stop-color="#7aff85" stop-opacity="1.000"/><stop offset="0.3929" stop-color="#35ffca" stop-opacity="1.000"/><stop offset="0.4286" stop-color="#00f2ff" stop-opacity="1.000"/><stop offset="0.4643" stop-color="#00b7ff" stop-opacity="1.000"/><stop offset="0.5000" stop-color="#0081ff" stop-opacity="1.000"/><stop offset="0.5357" stop-color="#0052ff" stop-opacity="1.000"/><stop offset="0.5714" stop-color="#0029ff" stop-opacity="1.000"/><stop offset="0.6071" stop-color="#0006ff" stop-opacity="1.000"/><stop offset="0.6429" stop-color="#0000e9" stop-opacity="1.000"/><stop offset="0.6786" stop-color="#0000d3" stop-opacity="1.000"/><stop offset="0.7143" stop-color="#0000c0" stop-opacity="1.000"/><stop offset="0.7500" stop-color="#0000b2" stop-opacity="1.000"/><stop offset="0.7857" stop-color="#0000a7" stop-opacity="1.000"/><stop offset="0.8214" stop-color="#00009a" stop-opacity="1.000"/><stop offset="0.8571" stop-color="#010191" stop-opacity="1.000"/><stop offset="0.8929" stop-color="#01018c" stop-opacity="1.000"/><stop offset="0.9286" stop-color="#01018a" stop-opacity="0.570"/><stop offset="0.9643" stop-color="#020289" stop-opacity="0.237"/><stop offset="1.0000" stop-color="#020288" stop-opacity="0.000"/></radialGradient>
<radialGradient id="g22" gradientUnits="userSpaceOnUse" cx="654.20" cy="740.50" r="26.92"><stop offset="0.0000" stop-color="#800000" stop-opacity="1.000"/><stop offset="0.0357" stop-color="#870000" stop-opacity="1.000"/><stop offset="0.0714" stop-color="#9c0000" stop-opacity="1.000"/><stop offset="0.1071" stop-color="#be0000" stop-opacity="1.000"/><stop offset="0.1429" stop-color="#ec0000" stop-opacity="1.000"/><stop offset="0.1786" stop-color="#ff2500" stop-opacity="1.000"/><stop offset="0.2143" stop-color="#ff6500" stop-opacity="1.000"/><stop offset="0.2500" stop-color="#ffaa00" stop-opacity="1.000"/><stop offset="0.2857" stop-color="#fff300" stop-opacity="1.000"/><stop offset="0.3214" stop-color="#c2ff3d" stop-opacity="1.000"/><stop offset="0.3571" stop-color="#7aff85" stop-opacity="1.000"/><stop offset="0.3929" stop-color="#35ffca" stop-opacity="1.000"/><stop offset="0.4286" stop-color="#00f2ff" stop-opacity="1.000"/><stop offset="0.4643" stop-color="#00b7ff" stop-opacity="1.000"/><stop offset="0.5000" stop-color="#0081ff" stop-opacity="1.000"/><stop offset="0.5357" stop-color="#0052ff" stop-opacity="1.000"/><stop offset="0.5714" stop-color="#0029ff" stop-opacity="1.000"/><stop offset="0.6071" stop-color="#0006ff" stop-opacity="1.000"/><stop offset="0.6429" stop-color="#0000e9" stop-opacity="1.000"/><stop offset="0.6786" stop-color="#0000d3" stop-opacity="1.000"/><stop offset="0.7143" stop-color="#0000c0" stop-opacity="1.000"/><stop offset="0.7500" stop-color="#0000b2" stop-opacity="1.000"/><stop offset="0.7857" stop-color="#0000a7" stop-opacity="1.000"/><stop offset="0.8214" stop-color="#00009a" stop-opacity="1.000"/><stop offset="0.8571" stop-color="#010191" stop-opacity="1.000"/><stop offset="0.8929" stop-color="#01018c" stop-opacity="1.000"/><stop offset="0.9286" stop-color="#01018a" stop-opacity="0.570"/><stop offset="0.9643" stop-color="#020289" stop-opacity="0.237"/><stop offset="1.0000" stop-color="#020288" stop-opacity="0.000"/></radialGradient>
<radialGradient id="g23" gradientUnits="userSpaceOnUse" cx="755.90" cy="638.50" r="21.91"><stop offset="0.0000" stop-color="#002eff" stop-opacity="1.000"/><stop offset="0.0357" stop-color="#002dff" stop-opacity="1.000"/><stop offset="0.0714" stop-color="#002bff" stop-opacity="1.000"/><stop offset="0.1071" stop-color="#0027ff" stop-opacity="1.000"/><stop offset="0.1429" stop-color="#0021ff" stop-opacity="1.000"/><stop offset="0.1786" stop-color="#001aff" stop-opacity="1.000"/><stop offset="0.2143" stop-color="#0012ff" stop-opacity="1.000"/><stop offset="0.2500" stop-color="#000aff" stop-opacity="1.000"/><stop offset="0.2857" stop-color="#0000ff" stop-opacity="1.000"/><stop offset="0.3214" stop-color="#0000f6" stop-opacity="1.000"/><stop offset="0.3571" stop-color="#0000ec" stop-opacity="1.000"/><stop offset="0.3929" stop-color="#0000e3" stop-opacity="1.000"/><stop offset="0.4286" stop-color="#0000d9" stop-opacity="1.000"/><stop offset="0.4643" stop-color="#0000d0" stop-opacity="1.000"/><stop offset="0.5000" stop-color="#0000c7" stop-opacity="1.000"/><stop offset="0.5357" stop-color="#0000bf" stop-opacity="1.000"/><stop offset="0.5714" stop-color="#0000b7" stop-opacity="1.000"/><stop offset="0.6071" stop-color="#0000b0" stop-opacity="1.000"/><stop offset="0.6429" stop-color="#0000aa" stop-opacity="1.000"/><stop offset="0.6786" stop-color="#0000a4" stop-opacity="1.000"/><stop offset="0.7143" stop-color="#00009b" stop-opacity="1.000"/><stop offset="0.7500" stop-color="#010195" stop-opacity="1.000"/><stop offset="0.7857" stop-color="#010191" stop-opacity="1.000"/><stop offset="0.8214" stop-color="#01018d" stop-opacity="1.000"/><stop offset="0.8571" stop-color="#01018b" stop-opacity="0.852"/><stop offset="0.8929" stop-color="#01018a" stop-opacity="0.570"/><stop offset="0.9286" stop-color="#020289" stop-opacity="0.338"/><stop offset="0.9643" stop-color="#020289" stop-opacity="0.150"/><stop offset="1.0000" stop-color="#020288" stop-opacity="0.000"/></radialGradient>
<radialGradient id="g24" gradientUnits="userSpaceOnUse" cx="755.90" cy="842.50" r="21.91"><stop offset="0.0000" stop-color="#002eff" stop-opacity="1.000"/><stop offset="0.0357" stop-color="#002dff" stop-opacity="1.000"/><stop offset="0.0714" stop-color="#002bff" stop-opacity="1.000"/><stop offset="0.1071" stop-color="#0027ff" stop-opacity="1.000"/><stop offset="0.1429" stop-color="#0021ff" stop-opacity="1.000"/><stop offset="0.1786" stop-color="#001aff" stop-opacity="1.000"/><stop offset="0.2143" stop-color="#0012ff" stop-opacity="1.000"/><stop offset="0.2500" stop-color="#000aff" stop-opacity="1.000"/><stop offset="0.2857" stop-color="#0000ff" stop-opacity="1.000"/><stop offset="0.3214" stop-color="#0000f6" stop-opacity="1.000"/><stop offset="0.3571" stop-color="#0000ec" stop-opacity="1.000"/><stop offset="0.3929" stop-color="#0000e3" stop-opacity="1.000"/><stop offset="0.4286" stop-color="#0000d9" stop-opacity="1.000"/><stop offset="0.4643" stop-color="#0000d0" stop-opacity="1.000"/><stop offset="0.5000" stop-color="#0000c7" stop-opacity="1.000"/><stop offset="0.5357" stop-color="#0000bf" stop-opacity="1.000"/><stop offset="0.5714" stop-color="#0000b7" stop-opacity="1.000"/><stop offset="0.6071" stop-color="#0000b0" stop-opacity="1.000"/><stop offset="0.6429" stop-color="#0000aa" stop-opacity="1.000"/><stop offset="0.6786" stop-color="#0000a4" stop-opacity="1.000"/><stop offset="0.7143" stop-color="#00009b" stop-opacity="1.000"/><stop offset="0.7500" stop-color="#010195" stop-opacity="1.000"/><stop offset="0.7857" stop-color="#010191" stop-opacity="1.000"/><stop offset="0.8214" stop-color="#01018d" stop-opacity="1.000"/><stop offset="0.8571" stop-color="#01018b" stop-opacity="0.852"/><stop offset="0.8929" stop-color="#01018a" stop-opacity="0.570"/><stop offset="0.9286" stop-color="#020289" stop-opacity="0.338"/><stop offset="0.9643" stop-color="#020289" stop-opacity="0.150"/><stop offset="1.0000" stop-color="#020288" stop-opacity="0.000"/></radialGradient>
<radialGradient id="g25" gradientUnits="userSpaceOnUse" cx="854.19" cy="642.21" r="19.96"><stop offset="0.0000" stop-color="#0000dd" stop-opacity="1.000"/><stop offset="0.0357" stop-color="#0000dd" stop-opacity="1.000"/><stop offset="0.0714" stop-color="#0000dc" stop-opacity="1.000"/><stop offset="0.1071" stop-color="#0000da" stop-opacity="1.000"/><stop offset="0.1429" stop-color="#0000d8" stop-opacity="1.000"/><stop offset="0.1786" stop-color="#0000d5" stop-opacity="1.000"/><stop offset="0.2143" stop-color="#0000d2" stop-opacity="1.000"/><stop offset="0.2500" stop-color="#0000ce" stop-opacity="1.000"/><stop offset="0.2857" stop-color="#0000ca" stop-opacity="1.000"/><stop offset="0.3214" stop-color="#0000c6" stop-opacity="1.000"/><stop offset="0.3571" stop-color="#0000c1" stop-opacity="1.000"/><stop offset="0.3929" stop-color="#0000bd" stop-opacity="1.000"/><stop offset="0.4286" stop-color="#0000b8" stop-opacity="1.000"/><stop offset="0.4643" stop-color="#0000b3" stop-opacity="1.000"/><stop offset="0.5000" stop-color="#0000af" stop-opacity="1.000"/><stop offset="0.5357" stop-color="#0000aa" stop-opacity="1.000"/><stop offset="0.5714" stop-color="#0000a6" stop-opacity="1.000"/><stop offset="0.6071" stop-color="#0000a1" stop-opacity="1.000"/><stop offset="0.6429" stop-color="#00009b" stop-opacity="1.000"/><stop offset="0.6786" stop-color="#010196" stop-opacity="1.000"/><stop offset="0.7143" stop-color="#010192" stop-opacity="1.000"/><stop offset="0.7500" stop-color="#01018f" stop-opacity="1.000"/><stop offset="0.7857" stop-color="#01018d" stop-opacity="1.000"/><stop offset="0.8214" stop-color="#01018c" stop-opacity="0.876"/><stop offset="0.8571" stop-color="#01018a" stop-opacity="0.642"/><stop offset="0.8929" stop-color="#01018a" stop-opacity="0.440"/><stop offset="0.9286" stop-color="#020289" stop-opacity="0.268"/><stop offset="0.9643" stop-color="#020289" stop-opacity="0.122"/><stop offset="1.0000" stop-color="#020288" stop-opacity="0.000"/></radialGradient>
<radialGradient id="g26" gradientUnits="userSpaceOnUse" cx="657.61" cy="642.21" r="19.96"><stop offset="0.0000" stop-color="#0000dd" stop-opacity="1.000"/><stop offset="0.0357" stop-color="#0000dd" stop-opacity="1.000"/><stop offset="0.0714" stop-color="#0000dc" stop-opacity="1.000"/><stop offset="0.1071" stop-color="#0000da" stop-opacity="1.000"/><stop offset="0.1429" stop-color="#0000d8" stop-opacity="1.000"/><stop offset="0.1786" stop-color="#0000d5" stop-opacity="1.000"/><stop offset="0.2143" stop-color="#0000d2" stop-opacity="1.000"/><stop offset="0.2500" stop-color="#0000ce" stop-opacity="1.000"/><stop offset="0.2857" stop-color="#0000ca" stop-opacity="1.000"/><stop offset="0.3214" stop-color="#0000c6" stop-opacity="1.000"/><stop offset="0.3571" stop-color="#0000c1" stop-opacity="1.000"/><stop offset="0.3929" stop-color="#0000bd" stop-opacity="1.000"/><stop offset="0.4286" stop-color="#0000b8" stop-opacity="1.000"/><stop offset="0.4643" stop-color="#0000b3" stop-opacity="1.000"/><stop offset="0.5000" stop-color="#0000af" stop-opacity="1.000"/><stop offset="0.5357" stop-color="#0000aa" stop-opacity="1.000"/><stop offset="0.5714" stop-color="#0000a6" stop-opacity="1.000"/><stop offset="0.6071" stop-color="#0000a1" stop-opacity="1.000"/><stop offset="0.6429" stop-color="#00009b" stop-opacity="1.000"/><stop offset="0.6786" stop-color="#010196" stop-opacity="1.000"/><stop offset="0.7143" stop-color="#010192" stop-opacity="1.000"/><stop offset="0.7500" stop-color="#01018f" stop-opacity="1.000"/><stop offset="0.7857" stop-color="#01018d" stop-opacity="1.000"/><stop offset="0.8214" stop-color="#01018c" stop-opacity="0.876"/><stop offset="0.8571" stop-color="#01018a" stop-opacity="0.642"/><stop offset="0.8929" stop-color="#01018a" stop-opacity="0.440"/><stop offset="0.9286" stop-color="#020289" stop-opacity="0.268"/><stop offset="0.9643" stop-color="#020289" stop-opacity="0.122"/><stop offset="1.0000" stop-color="#020288" stop-opacity="0.000"/></radialGradient>
<radialGradient id="g27" gradientUnits="userSpaceOnUse" cx="657.61" cy="838.79" r="19.96"><stop offset="0.0000" stop-color="#0000dd" stop-opacity="1.000"/><stop offset="0.0357" stop-color="#0000dd" stop-opacity="1.000"/><stop offset="0.0714" stop-color="#0000dc" stop-opacity="1.000"/><stop offset="0.1071" stop-color="#0000da" stop-opacity="1.000"/><stop offset="0.1429" stop-color="#0000d8" stop-opacity="1.000"/><stop offset="0.1786" stop-color="#0000d5" stop-opacity="1.000"/><stop offset="0.2143" stop-color="#0000d2" stop-opacity="1.000"/><stop offset="0.2500" stop-color="#0000ce" stop-opacity="1.000"/><stop offset="0.2857" stop-color="#0000ca" stop-opacity="1.000"/><stop offset="0.3214" stop-color="#0000c6" stop-opacity="1.000"/><stop offset="0.3571" stop-color="#0000c1" stop-opacity="1.000"/><stop offset="0.3929" stop-color="#0000bd" stop-opacity="1.000"/><stop offset="0.4286" stop-color="#0000b8" stop-opacity="1.000"/><stop offset="0.4643" stop-color="#0000b3" stop-opacity="1.000"/><stop offset="0.5000" stop-color="#0000af" stop-opacity="1.000"/><stop offset="0.5357" stop-color="#0000aa" stop-opacity="1.000"/><stop offset="0.5714" stop-color="#0000a6" stop-opacity="1.000"/><stop offset="0.6071" stop-color="#0000a1" stop-opacity="1.000"/><stop offset="0.6429" stop-color="#00009b" stop-opacity="1.000"/><stop offset="0.6786" stop-color="#010196" stop-opacity="1.000"/><stop offset="0.7143" stop-color="#010192" stop-opacity="1.000"/><stop offset="0.7500" stop-color="#01018f" stop-opacity="1.000"/><stop offset="0.7857" stop-color="#01018d" stop-opacity="1.000"/><stop offset="0.8214" stop-color="#01018c" stop-opacity="0.876"/><stop offset="0.8571" stop-color="#01018a" stop-opacity="0.642"/><stop offset="0.8929" stop-color="#01018a" stop-opacity="0.440"/><stop offset="0.9286" stop-color="#020289" stop-opacity="0.268"/><stop offset="0.9643" stop-color="#020289" stop-opacity="0.122"/><stop offset="1.0000" stop-color="#020288" stop-opacity="0.000"/></radialGradient>
<radialGradient id="g28" gradientUnits="userSpaceOnUse" cx="854.19" cy="838.79" r="19.96"><stop offset="0.0000" stop-color="#0000dd" stop-opacity="1.000"/><stop offset="0.0357" stop-color="#0000dd" stop-opacity="1.000"/><stop offset="0.0714" stop-color="#0000dc" stop-opacity="1.000"/><stop offset="0.1071" stop-color="#0000da" stop-opacity="1.000"/><stop offset="0.1429" stop-color="#0000d8" stop-opacity="1.000"/><stop offset="0.1786" stop-color="#0000d5" stop-opacity="1.000"/><stop offset="0.2143" stop-color="#0000d2" stop-opacity="1.000"/><stop offset="0.2500" stop-color="#0000ce" stop-opacity="1.000"/><stop offset="0.2857" stop-color="#0000ca" stop-opacity="1.000"/><stop offset="0.3214" stop-color="#0000c6" stop-opacity="1.000"/><stop offset="0.3571" stop-color="#0000c1" stop-opacity="1.000"/><stop offset="0.3929" stop-color="#0000bd" stop-opacity="1.000"/><stop offset="0.4286" stop-color="#0000b8" stop-opacity="1.000"/><stop offset="0.4643" stop-color="#0000b3" stop-opacity="1.000"/><stop offset="0.5000" stop-color="#0000af" stop-opacity="1.000"/><stop offset="0.5357" stop-color="#0000aa" stop-opacity="1.000"/><stop offset="0.5714" stop-color="#0000a6" stop-opacity="1.000"/><stop offset="0.6071" stop-color="#0000a1" stop-opacity="1.000"/><stop offset="0.6429" stop-color="#00009b" stop-opacity="1.000"/><stop offset="0.6786" stop-color="#010196" stop-opacity="1.000"/><stop offset="0.7143" stop-color="#010192" stop-opacity="1.000"/><stop offset="0.7500" stop-color="#01018f" stop-opacity="1.000"/><stop offset="0.7857" stop-color="#01018d" stop-opacity="1.000"/><stop offset="0.8214" stop-color="#01018c" stop-opacity="0.876"/><stop offset="0.8571" stop-color="#01018a" stop-opacity="0.642"/><stop offset="0.8929" stop-color="#01018a" stop-opacity="0.440"/><stop offset="0.9286" stop-color="#020289" stop-opacity="0.268"/><stop offset="0.9643" stop-color="#020289" stop-opacity="0.122"/><stop offset="1.0000" stop-color="#020288" stop-opacity="0.000"/></radialGradient>
<clipPath id="kd"><rect x="885.9" y="660.5" width="30" height="24"/></clipPath>
</defs>
<g filter="url(#soft)">
<rect width="1025" height="953" fill="#fff"/>
<circle cx="231.00" cy="256.60" r="186.10" fill="#020288" stroke="#7878b0" stroke-width="1.2"/>
<g clip-path="url(#ca)"><ellipse cx="231.00" cy="256.60" rx="37.35" ry="37.35" fill="url(#g1)"/><ellipse cx="387.00" cy="256.60" rx="39.21" ry="39.21" fill="url(#g2)"/><ellipse cx="75.00" cy="256.60" rx="39.21" ry="39.21" fill="url(#g3)"/><ellipse cx="231.00" cy="102.80" rx="38.13" ry="28.59" fill="url(#g4)"/><ellipse cx="231.00" cy="410.40" rx="38.13" ry="28.59" fill="url(#g5)"/></g>
<g fill="none" stroke="#4a4aff" stroke-opacity="0.5" stroke-width="3.3"><circle cx="231.00" cy="256.60" r="32.47"/><circle cx="231.00" cy="256.60" r="63.96"/><circle cx="231.00" cy="256.60" r="93.50"/><circle cx="231.00" cy="256.60" r="120.20"/><circle cx="231.00" cy="256.60" r="143.25"/><circle cx="231.00" cy="256.60" r="161.95"/><circle cx="231.00" cy="256.60" r="175.72"/><circle cx="231.00" cy="256.60" r="184.16"/><line x1="44.00" y1="256.60" x2="418.00" y2="256.60"/><line x1="69.05" y1="350.10" x2="392.95" y2="163.10"/><line x1="137.50" y1="418.55" x2="324.50" y2="94.65"/><line x1="231.00" y1="443.60" x2="231.00" y2="69.60"/><line x1="324.50" y1="418.55" x2="137.50" y2="94.65"/><line x1="392.95" y1="350.10" x2="69.05" y2="163.10"/></g>
<g fill="none" stroke="#e4e6ff" stroke-width="1.6"><circle cx="231.00" cy="256.60" r="32.47"/><circle cx="231.00" cy="256.60" r="63.96"/><circle cx="231.00" cy="256.60" r="93.50"/><circle cx="231.00" cy="256.60" r="120.20"/><circle cx="231.00" cy="256.60" r="143.25"/><circle cx="231.00" cy="256.60" r="161.95"/><circle cx="231.00" cy="256.60" r="175.72"/><circle cx="231.00" cy="256.60" r="184.16"/><line x1="44.00" y1="256.60" x2="418.00" y2="256.60"/><line x1="69.05" y1="350.10" x2="392.95" y2="163.10"/><line x1="137.50" y1="418.55" x2="324.50" y2="94.65"/><line x1="231.00" y1="443.60" x2="231.00" y2="69.60"/><line x1="324.50" y1="418.55" x2="137.50" y2="94.65"/><line x1="392.95" y1="350.10" x2="69.05" y2="163.10"/></g>
<g clip-path="url(#ca)"><ellipse cx="231.00" cy="256.60" rx="12.80" ry="12.80" fill="url(#g1)"/><ellipse cx="387.00" cy="256.60" rx="15.54" ry="15.54" fill="url(#g2)"/><ellipse cx="75.00" cy="256.60" rx="15.54" ry="15.54" fill="url(#g3)"/></g>
<g class="rl"><text x="272.7" y="252.7">10</text><text x="305.0" y="234.3">20</text><text x="330.8" y="221.1">30</text><text x="353.2" y="208.4">40</text><text x="373.9" y="198.8">50</text></g>
<circle cx="231.00" cy="256.60" r="161.95" fill="none" stroke="#e4e6ff" stroke-width="1.5" clip-path="url(#ka)"/>
<g class="al"><text x="230.0" y="61.7">90</text><text x="333.4" y="87.8">60</text><text x="411.1" y="161.3">30</text><text x="122.9" y="88.8">120</text><text x="44.4" y="167.4">150</text><text x="16.7" y="263.1">180</text><text x="44.1" y="360.1">210</text><text x="123.1" y="440.2">240</text><text x="231.7" y="464.3">270</text><text x="335.7" y="440.1">300</text><text x="409.0" y="369.3">330</text></g>
<rect x="432.50" y="68.80" width="23.40" height="375.30" fill="url(#jet)" stroke="#3a2a2a" stroke-opacity="0.35" stroke-width="0.6"/>
<g class="ct"><text x="460.9" y="96.9">2.5</text><text x="460.9" y="167.5">2</text><text x="460.9" y="238.2">1.5</text><text x="460.9" y="308.8">1</text><text x="460.9" y="379.5">0.5</text><text x="460.9" y="450.1">0</text></g>
<g stroke="#402020" stroke-opacity="0.6" stroke-width="0.7"><line x1="453.4" y1="92.3" x2="455.9" y2="92.3"/><line x1="453.4" y1="162.9" x2="455.9" y2="162.9"/><line x1="453.4" y1="233.6" x2="455.9" y2="233.6"/><line x1="453.4" y1="304.2" x2="455.9" y2="304.2"/><line x1="453.4" y1="374.9" x2="455.9" y2="374.9"/></g>
<g class="ce"><text x="457.6" y="60.8">×</text><text x="467.9" y="60.8">10</text><text x="481.9" y="54.9" style="font-size:9.4px">-8</text></g>
<text class="pl" x="-0.5" y="44.9">(a)</text>
<text class="tt" transform="translate(189.5 24.0) scale(1.075 1)" fill="#1f3864">(<tspan>f</tspan><tspan class="sb" dy="8">1</tspan><tspan dy="-8">,B</tspan><tspan class="sb" dy="8">1</tspan><tspan dy="-8" dx="2.2">)</tspan></text>
<circle cx="744.20" cy="262.60" r="185.20" fill="#020288" stroke="#7878b0" stroke-width="1.2"/>
<g clip-path="url(#cb)"><ellipse cx="744.20" cy="262.60" rx="37.35" ry="37.35" fill="url(#g6)"/><ellipse cx="744.20" cy="107.00" rx="41.87" ry="41.87" fill="url(#g7)"/><ellipse cx="744.20" cy="418.20" rx="41.87" ry="41.87" fill="url(#g8)"/><ellipse cx="896.90" cy="262.60" rx="27.08" ry="37.61" fill="url(#g9)"/><ellipse cx="591.50" cy="262.60" rx="27.08" ry="37.61" fill="url(#g10)"/></g>
<g fill="none" stroke="#4a4aff" stroke-opacity="0.5" stroke-width="3.3"><circle cx="744.20" cy="262.60" r="32.32"/><circle cx="744.20" cy="262.60" r="63.65"/><circle cx="744.20" cy="262.60" r="93.05"/><circle cx="744.20" cy="262.60" r="119.62"/><circle cx="744.20" cy="262.60" r="142.56"/><circle cx="744.20" cy="262.60" r="161.17"/><circle cx="744.20" cy="262.60" r="174.88"/><circle cx="744.20" cy="262.60" r="183.27"/><line x1="558.10" y1="262.60" x2="930.30" y2="262.60"/><line x1="583.03" y1="355.65" x2="905.37" y2="169.55"/><line x1="651.15" y1="423.77" x2="837.25" y2="101.43"/><line x1="744.20" y1="448.70" x2="744.20" y2="76.50"/><line x1="837.25" y1="423.77" x2="651.15" y2="101.43"/><line x1="905.37" y1="355.65" x2="583.03" y2="169.55"/></g>
<g fill="none" stroke="#e4e6ff" stroke-width="1.6"><circle cx="744.20" cy="262.60" r="32.32"/><circle cx="744.20" cy="262.60" r="63.65"/><circle cx="744.20" cy="262.60" r="93.05"/><circle cx="744.20" cy="262.60" r="119.62"/><circle cx="744.20" cy="262.60" r="142.56"/><circle cx="744.20" cy="262.60" r="161.17"/><circle cx="744.20" cy="262.60" r="174.88"/><circle cx="744.20" cy="262.60" r="183.27"/><line x1="558.10" y1="262.60" x2="930.30" y2="262.60"/><line x1="583.03" y1="355.65" x2="905.37" y2="169.55"/><line x1="651.15" y1="423.77" x2="837.25" y2="101.43"/><line x1="744.20" y1="448.70" x2="744.20" y2="76.50"/><line x1="837.25" y1="423.77" x2="651.15" y2="101.43"/><line x1="905.37" y1="355.65" x2="583.03" y2="169.55"/></g>
<g clip-path="url(#cb)"><ellipse cx="744.20" cy="262.60" rx="12.80" ry="12.80" fill="url(#g6)"/><ellipse cx="744.20" cy="107.00" rx="16.60" ry="16.60" fill="url(#g7)"/><ellipse cx="744.20" cy="418.20" rx="16.60" ry="16.60" fill="url(#g8)"/></g>
<g class="rl"><text x="785.9" y="258.7">10</text><text x="818.2" y="240.3">20</text><text x="844.0" y="227.1">30</text><text x="866.4" y="214.4">40</text><text x="887.1" y="204.8">50</text></g>
<circle cx="744.20" cy="262.60" r="161.17" fill="none" stroke="#e4e6ff" stroke-width="1.5" clip-path="url(#kb)"/>
<g class="al"><text x="743.2" y="70.5">90</text><text x="845.8" y="96.5">60</text><text x="922.9" y="171.3">30</text><text x="637.0" y="97.4">120</text><text x="559.1" y="175.4">150</text><text x="531.6" y="270.3">180</text><text x="558.8" y="366.5">210</text><text x="637.2" y="446.0">240</text><text x="744.9" y="469.9">270</text><text x="848.1" y="445.9">300</text><text x="920.8" y="375.7">330</text></g>
<rect x="944.40" y="76.20" width="23.40" height="372.40" fill="url(#jet)" stroke="#3a2a2a" stroke-opacity="0.35" stroke-width="0.6"/>
<g class="ct"><text x="972.8" y="87.1">3</text><text x="972.8" y="148.3">2.5</text><text x="972.8" y="209.6">2</text><text x="972.8" y="270.9">1.5</text><text x="972.8" y="332.1">1</text><text x="972.8" y="393.4">0.5</text><text x="972.8" y="454.6">0</text></g>
<g stroke="#402020" stroke-opacity="0.6" stroke-width="0.7"><line x1="965.3" y1="82.5" x2="967.8" y2="82.5"/><line x1="965.3" y1="143.8" x2="967.8" y2="143.8"/><line x1="965.3" y1="205.0" x2="967.8" y2="205.0"/><line x1="965.3" y1="266.2" x2="967.8" y2="266.2"/><line x1="965.3" y1="327.5" x2="967.8" y2="327.5"/><line x1="965.3" y1="388.8" x2="967.8" y2="388.8"/></g>
<g class="ce"><text x="969.5" y="68.2">×</text><text x="979.8" y="68.2">10</text><text x="993.8" y="62.3" style="font-size:9.4px">-8</text></g>
<text class="pl" x="540.7" y="37.3">(b)</text>
<text class="tt" transform="translate(708.5 24.0) scale(1.075 1)" fill="#7f6000">(<tspan>f</tspan><tspan class="sb" dy="8">1</tspan><tspan dy="-8">,B</tspan><tspan class="sb" dy="8">2</tspan><tspan dy="-8" dx="2.2">)</tspan></text>
<circle cx="231.40" cy="741.80" r="185.20" fill="#020288" stroke="#7878b0" stroke-width="1.2"/>
<g clip-path="url(#cc)"><ellipse cx="231.40" cy="741.80" rx="26.04" ry="26.04" fill="url(#g11)"/><ellipse cx="231.40" cy="640.20" rx="26.92" ry="26.92" fill="url(#g12)"/><ellipse cx="231.40" cy="843.40" rx="26.92" ry="26.92" fill="url(#g13)"/><ellipse cx="330.40" cy="741.80" rx="17.60" ry="17.60" fill="url(#g14)"/><ellipse cx="132.40" cy="741.80" rx="17.60" ry="17.60" fill="url(#g15)"/><ellipse cx="331.46" cy="641.74" rx="18.62" ry="18.62" fill="url(#g16)"/><ellipse cx="131.34" cy="641.74" rx="18.62" ry="18.62" fill="url(#g17)"/><ellipse cx="131.34" cy="841.86" rx="18.62" ry="18.62" fill="url(#g18)"/><ellipse cx="331.46" cy="841.86" rx="18.62" ry="18.62" fill="url(#g19)"/></g>
<g fill="none" stroke="#4a4aff" stroke-opacity="0.5" stroke-width="3.3"><circle cx="231.40" cy="741.80" r="32.32"/><circle cx="231.40" cy="741.80" r="63.65"/><circle cx="231.40" cy="741.80" r="93.05"/><circle cx="231.40" cy="741.80" r="119.62"/><circle cx="231.40" cy="741.80" r="142.56"/><circle cx="231.40" cy="741.80" r="161.17"/><circle cx="231.40" cy="741.80" r="174.88"/><circle cx="231.40" cy="741.80" r="183.27"/><line x1="45.30" y1="741.80" x2="417.50" y2="741.80"/><line x1="70.23" y1="834.85" x2="392.57" y2="648.75"/><line x1="138.35" y1="902.97" x2="324.45" y2="580.63"/><line x1="231.40" y1="927.90" x2="231.40" y2="555.70"/><line x1="324.45" y1="902.97" x2="138.35" y2="580.63"/><line x1="392.57" y1="834.85" x2="70.23" y2="648.75"/></g>
<g fill="none" stroke="#e4e6ff" stroke-width="1.6"><circle cx="231.40" cy="741.80" r="32.32"/><circle cx="231.40" cy="741.80" r="63.65"/><circle cx="231.40" cy="741.80" r="93.05"/><circle cx="231.40" cy="741.80" r="119.62"/><circle cx="231.40" cy="741.80" r="142.56"/><circle cx="231.40" cy="741.80" r="161.17"/><circle cx="231.40" cy="741.80" r="174.88"/><circle cx="231.40" cy="741.80" r="183.27"/><line x1="45.30" y1="741.80" x2="417.50" y2="741.80"/><line x1="70.23" y1="834.85" x2="392.57" y2="648.75"/><line x1="138.35" y1="902.97" x2="324.45" y2="580.63"/><line x1="231.40" y1="927.90" x2="231.40" y2="555.70"/><line x1="324.45" y1="902.97" x2="138.35" y2="580.63"/><line x1="392.57" y1="834.85" x2="70.23" y2="648.75"/></g>
<g clip-path="url(#cc)"><ellipse cx="231.40" cy="741.80" rx="9.08" ry="9.08" fill="url(#g11)"/><ellipse cx="231.40" cy="640.20" rx="10.67" ry="10.67" fill="url(#g12)"/><ellipse cx="231.40" cy="843.40" rx="10.67" ry="10.67" fill="url(#g13)"/></g>
<g class="rl"><text x="273.1" y="737.9">10</text><text x="305.4" y="719.5">20</text><text x="331.2" y="706.3">30</text><text x="353.6" y="693.6">40</text><text x="374.3" y="684.0">50</text></g>
<circle cx="231.40" cy="741.80" r="161.17" fill="none" stroke="#e4e6ff" stroke-width="1.5" clip-path="url(#kc)"/>
<g class="al"><text x="230.4" y="548.6">90</text><text x="332.8" y="573.0">60</text><text x="409.7" y="647.2">30</text><text x="124.4" y="575.5">120</text><text x="46.7" y="653.3">150</text><text x="19.2" y="748.0">180</text><text x="46.4" y="844.0">210</text><text x="124.6" y="923.3">240</text><text x="232.1" y="947.2">270</text><text x="335.1" y="923.2">300</text><text x="407.6" y="853.2">330</text></g>
<rect x="431.70" y="555.80" width="23.10" height="371.80" fill="url(#jet)" stroke="#3a2a2a" stroke-opacity="0.35" stroke-width="0.6"/>
<g class="ct"><text x="459.8" y="579.9">1.2</text><text x="459.8" y="638.9">1</text><text x="459.8" y="697.8">0.8</text><text x="459.8" y="756.8">0.6</text><text x="459.8" y="815.7">0.4</text><text x="459.8" y="874.6">0.2</text><text x="459.8" y="933.6">0</text></g>
<g stroke="#402020" stroke-opacity="0.6" stroke-width="0.7"><line x1="452.3" y1="575.3" x2="454.8" y2="575.3"/><line x1="452.3" y1="634.2" x2="454.8" y2="634.2"/><line x1="452.3" y1="693.2" x2="454.8" y2="693.2"/><line x1="452.3" y1="752.1" x2="454.8" y2="752.1"/><line x1="452.3" y1="811.1" x2="454.8" y2="811.1"/><line x1="452.3" y1="870.0" x2="454.8" y2="870.0"/></g>
<g class="ce"><text x="456.5" y="547.8">×</text><text x="466.8" y="547.8">10</text><text x="480.8" y="541.9" style="font-size:9.4px">-7</text></g>
<text class="pl" x="1.8" y="529.0">(c)</text>
<text class="tt" transform="translate(189.0 510.5) scale(1.075 1)" fill="#843c0c">(<tspan>f</tspan><tspan class="sb" dy="8">2</tspan><tspan dy="-8">,B</tspan><tspan class="sb" dy="8">1</tspan><tspan dy="-8" dx="2.2">)</tspan></text>
<circle cx="755.90" cy="740.50" r="185.70" fill="#020288" stroke="#7878b0" stroke-width="1.2"/>
<g clip-path="url(#cd)"><ellipse cx="755.90" cy="740.50" rx="26.28" ry="26.28" fill="url(#g20)"/><ellipse cx="857.60" cy="740.50" rx="26.92" ry="26.92" fill="url(#g21)"/><ellipse cx="654.20" cy="740.50" rx="26.92" ry="26.92" fill="url(#g22)"/><ellipse cx="755.90" cy="638.50" rx="21.91" ry="21.91" fill="url(#g23)"/><ellipse cx="755.90" cy="842.50" rx="21.91" ry="21.91" fill="url(#g24)"/><ellipse cx="854.19" cy="642.21" rx="19.96" ry="19.96" fill="url(#g25)"/><ellipse cx="657.61" cy="642.21" rx="19.96" ry="19.96" fill="url(#g26)"/><ellipse cx="657.61" cy="838.79" rx="19.96" ry="19.96" fill="url(#g27)"/><ellipse cx="854.19" cy="838.79" rx="19.96" ry="19.96" fill="url(#g28)"/></g>
<g fill="none" stroke="#4a4aff" stroke-opacity="0.5" stroke-width="3.3"><circle cx="755.90" cy="740.50" r="32.40"/><circle cx="755.90" cy="740.50" r="63.82"/><circle cx="755.90" cy="740.50" r="93.30"/><circle cx="755.90" cy="740.50" r="119.94"/><circle cx="755.90" cy="740.50" r="142.94"/><circle cx="755.90" cy="740.50" r="161.60"/><circle cx="755.90" cy="740.50" r="175.35"/><circle cx="755.90" cy="740.50" r="183.77"/><line x1="569.30" y1="740.50" x2="942.50" y2="740.50"/><line x1="594.30" y1="833.80" x2="917.50" y2="647.20"/><line x1="662.60" y1="902.10" x2="849.20" y2="578.90"/><line x1="755.90" y1="927.10" x2="755.90" y2="553.90"/><line x1="849.20" y1="902.10" x2="662.60" y2="578.90"/><line x1="917.50" y1="833.80" x2="594.30" y2="647.20"/></g>
<g fill="none" stroke="#e4e6ff" stroke-width="1.6"><circle cx="755.90" cy="740.50" r="32.40"/><circle cx="755.90" cy="740.50" r="63.82"/><circle cx="755.90" cy="740.50" r="93.30"/><circle cx="755.90" cy="740.50" r="119.94"/><circle cx="755.90" cy="740.50" r="142.94"/><circle cx="755.90" cy="740.50" r="161.60"/><circle cx="755.90" cy="740.50" r="175.35"/><circle cx="755.90" cy="740.50" r="183.77"/><line x1="569.30" y1="740.50" x2="942.50" y2="740.50"/><line x1="594.30" y1="833.80" x2="917.50" y2="647.20"/><line x1="662.60" y1="902.10" x2="849.20" y2="578.90"/><line x1="755.90" y1="927.10" x2="755.90" y2="553.90"/><line x1="849.20" y1="902.10" x2="662.60" y2="578.90"/><line x1="917.50" y1="833.80" x2="594.30" y2="647.20"/></g>
<g clip-path="url(#cd)"><ellipse cx="755.90" cy="740.50" rx="9.73" ry="9.73" fill="url(#g20)"/><ellipse cx="857.60" cy="740.50" rx="10.67" ry="10.67" fill="url(#g21)"/><ellipse cx="654.20" cy="740.50" rx="10.67" ry="10.67" fill="url(#g22)"/></g>
<g class="rl"><text x="797.6" y="736.6">10</text><text x="829.9" y="718.2">20</text><text x="855.7" y="705.0">30</text><text x="878.1" y="692.3">40</text><text x="898.8" y="682.7">50</text></g>
<circle cx="755.90" cy="740.50" r="161.60" fill="none" stroke="#e4e6ff" stroke-width="1.5" clip-path="url(#kd)"/>
<g class="al"><text x="754.9" y="546.8">90</text><text x="857.7" y="572.8">60</text><text x="934.9" y="647.3">30</text><text x="648.4" y="573.8">120</text><text x="570.4" y="651.9">150</text><text x="542.9" y="747.0">180</text><text x="570.1" y="844.4">210</text><text x="648.6" y="924.0">240</text><text x="756.6" y="948.0">270</text><text x="860.0" y="923.4">300</text><text x="932.8" y="853.6">330</text></g>
<rect x="957.10" y="553.60" width="23.10" height="373.20" fill="url(#jet)" stroke="#3a2a2a" stroke-opacity="0.35" stroke-width="0.6"/>
<g class="ct"><text x="985.2" y="602.9">1.2</text><text x="985.2" y="657.9">1</text><text x="985.2" y="712.9">0.8</text><text x="985.2" y="767.9">0.6</text><text x="985.2" y="822.8">0.4</text><text x="985.2" y="877.8">0.2</text><text x="985.2" y="932.8">0</text></g>
<g stroke="#402020" stroke-opacity="0.6" stroke-width="0.7"><line x1="977.7" y1="598.3" x2="980.2" y2="598.3"/><line x1="977.7" y1="653.3" x2="980.2" y2="653.3"/><line x1="977.7" y1="708.3" x2="980.2" y2="708.3"/><line x1="977.7" y1="763.3" x2="980.2" y2="763.3"/><line x1="977.7" y1="818.2" x2="980.2" y2="818.2"/><line x1="977.7" y1="873.2" x2="980.2" y2="873.2"/></g>
<g class="ce"><text x="981.9" y="545.6">×</text><text x="992.2" y="545.6">10</text><text x="1006.2" y="539.7" style="font-size:9.4px">-7</text></g>
<text class="pl" x="540.8" y="511.4">(d)</text>
<text class="tt" transform="translate(715.0 510.5) scale(1.075 1)" fill="#375623">(<tspan>f</tspan><tspan class="sb" dy="8">2</tspan><tspan dy="-8">,B</tspan><tspan class="sb" dy="8">3</tspan><tspan dy="-8" dx="2.2">)</tspan></text>
</g>
</svg>
</body></html>
